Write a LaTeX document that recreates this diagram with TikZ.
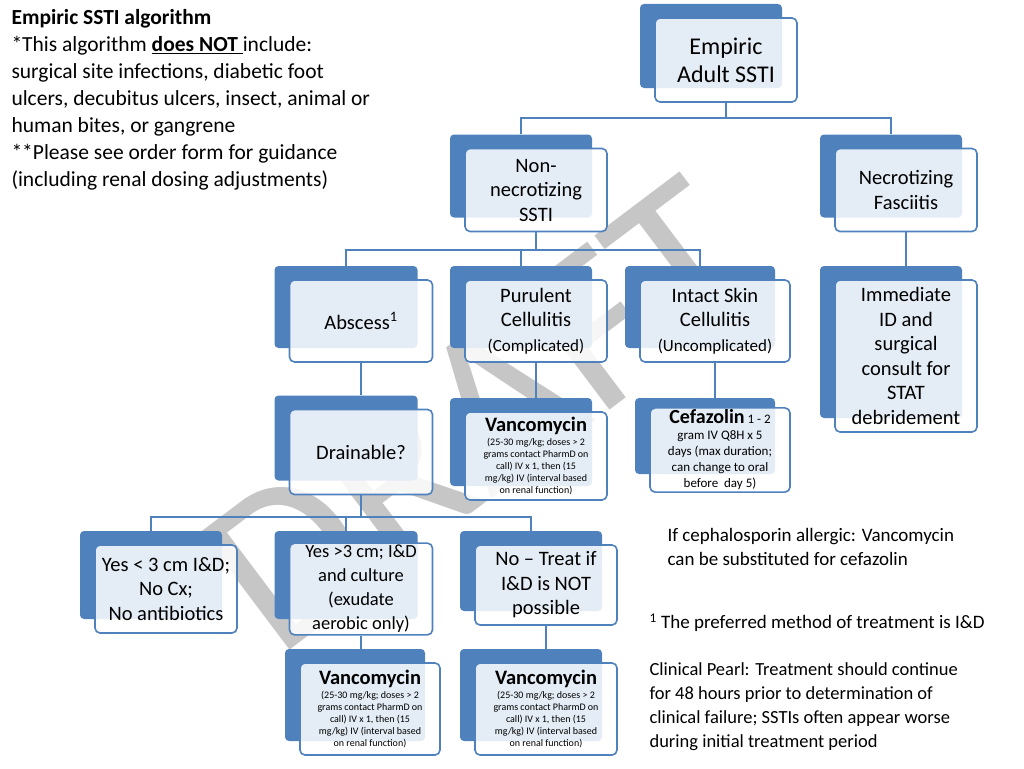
\documentclass[tikz,border=0pt]{standalone}
\usepackage{fontspec}
\setmainfont{Carlito}
\definecolor{boxblue}{RGB}{79,129,189}
\tikzset{
  back/.style={fill=boxblue, rounded corners=4pt, inner sep=0pt},
  front/.style={draw=boxblue, line width=1.6pt, fill=white, fill opacity=0.85, text opacity=1,
    rounded corners=5pt, align=center, inner sep=2pt, font=\fontsize{20.5}{24.5}\selectfont},
  link/.style={draw=boxblue, line width=1.6pt},
}
% box: name, x, y (centre of front), width, height, text
\newcommand{\ssbox}[6]{%
  \node[back, minimum width=#4pt, minimum height=#5pt] (#1B) at (#2-15,#3-14) {};
  \node[front, minimum width=#4pt, minimum height=#5pt] (#1) at (#2,#3) {#6};
}
\newcommand{\vancotext}{\textbf{Vancomycin}\\[3pt]\parbox{136pt}{\centering\fontsize{10}{12}\selectfont (25-30 mg/kg; doses > 2\\grams contact PharmD on\\call) IV x 1, then (15\\mg/kg) IV (interval based\\on renal function)}}
\begin{document}
\begin{tikzpicture}[x=1pt,y=-1pt]
  \useasboundingbox (0,0) rectangle (1024,768);

  % watermark
  \node[text=gray, opacity=0.45, rotate=37, font=\fontsize{230}{230}\selectfont] at (480,415) {DRAFT};

  % connector buses
  \coordinate (b1) at (0,118);
  \coordinate (b2) at (0,250);
  \coordinate (b3) at (0,517);

  % -- boxes --
  \ssbox{emp}{726}{60}{142}{84}{\parbox{136pt}{\centering\fontsize{24}{28}\selectfont Empiric\\Adult SSTI}}
  \ssbox{non}{536}{190}{142}{83}{Non-\\necrotizing\\SSTI}
  \ssbox{nec}{906}{190}{142}{83}{Necrotizing\\Fasciitis}
  \ssbox{abs}{361}{321}{143}{82}{Abscess\textsuperscript{1}}
  \ssbox{pur}{536}{321}{142}{82}{Purulent\\Cellulitis\\{\fontsize{17}{20}\selectfont (Complicated)}}
  \ssbox{int}{715}{321}{150}{82}{Intact Skin\\Cellulitis\\{\fontsize{17}{20}\selectfont (Uncomplicated)}}
  \ssbox{imm}{906}{356}{142}{152}{Immediate\\ID and\\surgical\\consult for\\STAT\\debridement}
  \ssbox{dra}{361}{452}{143}{85}{Drainable?}
  \ssbox{vaa}{536}{456}{142}{88}{\vancotext}
  \ssbox{cef}{720}{450}{140}{76}{\parbox{134pt}{\centering\fontsize{13}{16}\selectfont{\fontsize{20}{20}\selectfont\textbf{Cefazolin}} 1 - 2\\gram IV Q8H x 5\\days (max duration;\\can change to oral\\before\ \ day 5)}}
  \ssbox{yes}{166}{589}{142}{88}{Yes < 3 cm I\&D;\\No Cx;\\No antibiotics}
  \ssbox{yeb}{361}{589}{143}{88}{\parbox{139pt}{\centering\fontsize{18.5}{24}\selectfont Yes >3 cm; I\&D\\and culture\\(exudate\\aerobic only)}}
  \ssbox{no}{546}{585}{142}{80}{No -- Treat if\\I\&D is NOT\\possible}
  \ssbox{vab}{370}{709}{140}{92}{\vancotext}
  \ssbox{vac}{546}{709}{142}{92}{\vancotext}

  % -- connectors --
  \draw[link] (emp.south) |- (b1 -| nonB) -- (nonB.north);
  \draw[link] (emp.south |- b1) -| (necB.north);
  \draw[link] (non.south) |- (b2 -| absB) -- (absB.north);
  \draw[link] (non.south |- b2) -| (purB.north);
  \draw[link] (non.south |- b2) -| (intB.north);
  \draw[link] (nec.south) -- (nec.south |- immB.north);
  \draw[link] (abs.south) -- (abs.south |- draB.north);
  \draw[link] (pur.south) -- (pur.south |- vaaB.north);
  \draw[link] (int.south) -- (int.south |- cefB.north);
  \draw[link] (dra.south) |- (b3 -| yesB) -- (yesB.north);
  \draw[link] (dra.south |- b3) -| (yebB.north);
  \draw[link] (dra.south |- b3) -| (noB.north);
  \draw[link] (yeb.south) -- (yeb.south |- vabB.north);
  \draw[link] (no.south) -- (no.south |- vacB.north);

  % -- notes --
  \node[anchor=north west, align=left, font=\fontsize{21.5}{27}\selectfont] (note) at (8,6)
    {\textbf{Empiric SSTI algorithm}\\*This algorithm \textbf{\underline{does NOT }}include:\\surgical site infections, diabetic foot\\ulcers, decubitus ulcers, insect, animal or\\human bites, or gangrene\\**Please see order form for guidance\\(including renal dosing adjustments)};
  \node[anchor=north west, align=left, font=\fontsize{19}{24}\selectfont] (allergy) at (664,525)
    {If cephalosporin allergic: Vancomycin\\can be substituted for cefazolin};
  \node[anchor=north west, align=left, font=\fontsize{19}{24}\selectfont] (foot) at (646,610)
    {\textsuperscript{1} The preferred method of treatment is I\&D};
  \node[anchor=north west, align=left, font=\fontsize{18.5}{24}\selectfont] (pearl) at (646,659)
    {Clinical Pearl: Treatment should continue\\for 48 hours prior to determination of\\clinical failure; SSTIs often appear worse\\during initial treatment period};
\end{tikzpicture}
\end{document}
